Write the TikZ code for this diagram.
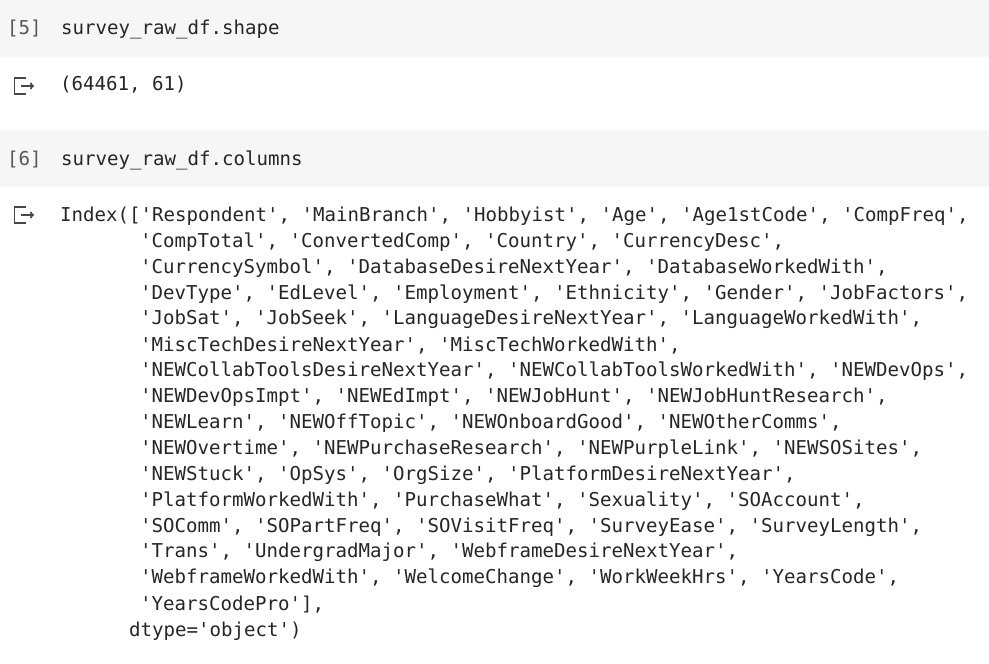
\documentclass[tikz,border=0pt]{standalone}
\usepackage{fontspec}
\setmonofont{DejaVu Sans Mono}
\usetikzlibrary{arrows.meta}
\begin{document}
\begin{tikzpicture}[x=1pt,y=-1pt,
  code/.style={anchor=west,inner sep=0pt,font=\ttfamily\fontsize{19.1}{20}\selectfont,text=black!85},
  num/.style={anchor=west,inner sep=0pt,font=\ttfamily\fontsize{19.1}{20}\selectfont,text=black!65},
  icon/.style={draw=black!72,line width=1.8pt}]
\useasboundingbox (0,0) rectangle (989,664);
\fill[white] (0,0) rectangle (989,664);
\fill[black!3.5] (0,0) rectangle (989,57);
\fill[black!3.5] (0,130) rectangle (989,187);
\node[num] (n5) at (7,29) {[5]};
\node[code] (c5) at (61,29) {survey\_raw\_df.shape};
\draw[icon] (26,78) -- (14.5,78) -- (14.5,94) -- (26,94);
\draw[icon,-{To[length=4pt,width=7pt]}] (21,86) -- (34,86);
\node[code] (o5) at (60,85) {(64461, 61)};
\node[num] (n6) at (7,160) {[6]};
\node[code] (c6) at (61,160) {survey\_raw\_df.columns};
\draw[icon] (26,207) -- (14.5,207) -- (14.5,223) -- (26,223);
\draw[icon,-{To[length=4pt,width=7pt]}] (21,215) -- (34,215);
\node[code] (l1) at (60,216) {Index(['Respondent', 'MainBranch', 'Hobbyist', 'Age', 'Age1stCode', 'CompFreq',};
\foreach \t [count=\i] in {
 {'CompTotal', 'ConvertedComp', 'Country', 'CurrencyDesc',},
 {'CurrencySymbol', 'DatabaseDesireNextYear', 'DatabaseWorkedWith',},
 {'DevType', 'EdLevel', 'Employment', 'Ethnicity', 'Gender', 'JobFactors',},
 {'JobSat', 'JobSeek', 'LanguageDesireNextYear', 'LanguageWorkedWith',},
 {'MiscTechDesireNextYear', 'MiscTechWorkedWith',},
 {'NEWCollabToolsDesireNextYear', 'NEWCollabToolsWorkedWith', 'NEWDevOps',},
 {'NEWDevOpsImpt', 'NEWEdImpt', 'NEWJobHunt', 'NEWJobHuntResearch',},
 {'NEWLearn', 'NEWOffTopic', 'NEWOnboardGood', 'NEWOtherComms',},
 {'NEWOvertime', 'NEWPurchaseResearch', 'NEWPurpleLink', 'NEWSOSites',},
 {'NEWStuck', 'OpSys', 'OrgSize', 'PlatformDesireNextYear',},
 {'PlatformWorkedWith', 'PurchaseWhat', 'Sexuality', 'SOAccount',},
 {'SOComm', 'SOPartFreq', 'SOVisitFreq', 'SurveyEase', 'SurveyLength',},
 {'Trans', 'UndergradMajor', 'WebframeDesireNextYear',},
 {'WebframeWorkedWith', 'WelcomeChange', 'WorkWeekHrs', 'YearsCode',},
 {'YearsCodePro'],}}
 \node[code] (l\i) at (140,{216+25.9*\i}) {\t};
\node[code] (dt) at (129,631) {dtype='object')};
\end{tikzpicture}
\end{document}
